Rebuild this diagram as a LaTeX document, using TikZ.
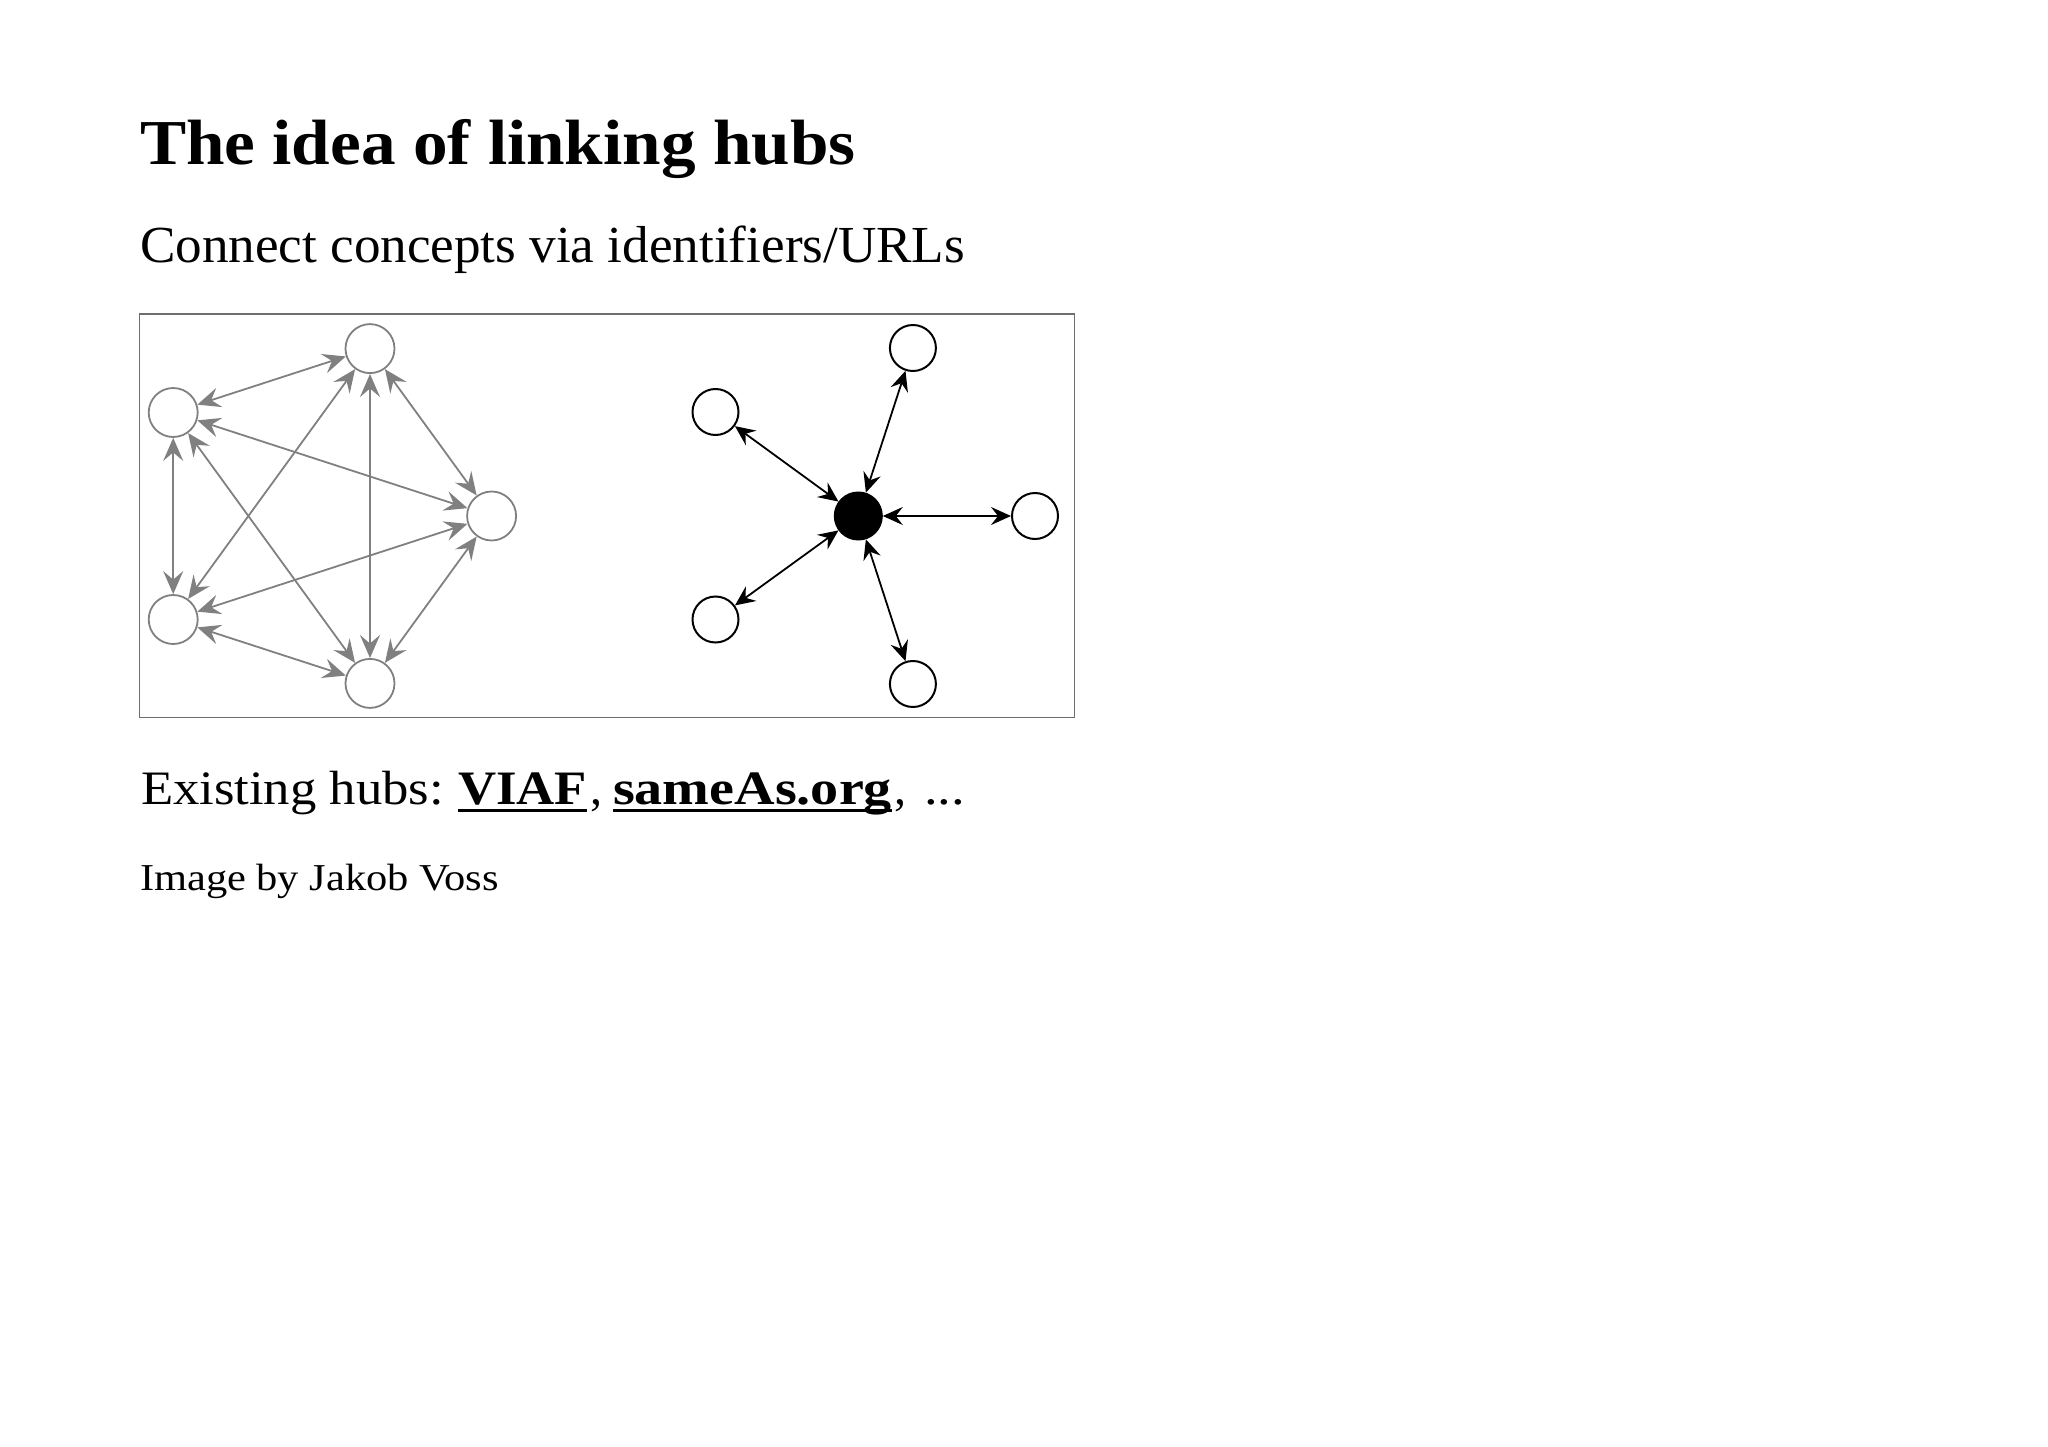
\documentclass[tikz,border=0pt]{standalone}
\usepackage{fontspec}
\setmainfont{Liberation Serif}
\usepackage{graphicx}
\usetikzlibrary{arrows.meta}

\definecolor{edgegray}{RGB}{128,128,128}
\definecolor{framegray}{RGB}{110,110,110}

% set #2 and stretch it horizontally to width #1 (in pt)
\newcommand\fitto[2]{\setbox0\hbox{#2}\dimen0=\wd0\relax
  \pgfmathsetmacro\fitsx{#1/\the\dimen0}\scalebox{\fitsx}[1]{\box0}}
% underline placed just below the baseline
\newcommand\hubul[1]{\setbox2\hbox{#1}\rlap{\rule[-8pt]{\wd2}{3pt}}\box2}

\begin{document}
\begin{tikzpicture}[x=1pt,y=-1pt,
  txt/.style={anchor=base west, inner sep=0pt, outer sep=0pt},
  hubfont/.style={font=\fontsize{48}{56}\selectfont},
  gnode/.style={circle, draw=edgegray, line width=1.8pt, minimum size=49pt, inner sep=0pt, fill=white},
  gedge/.style={draw=edgegray, line width=1.8pt, >={Stealth[length=23pt,width=20pt,inset=8.5pt]}, <->},
  hnode/.style={circle, draw=black, line width=2pt, minimum size=46pt, inner sep=0pt, fill=white},
  hubnode/.style={circle, fill=black, draw=black, line width=1pt, minimum size=48pt, inner sep=0pt},
  hedge/.style={draw=black, line width=1.8pt, >={Stealth[length=20pt,width=18pt,inset=7pt]}, <->}]
\useasboundingbox (0,0) rectangle (2048,1447);

% texts
\node[txt] (title) at (140,165)
  {\fitto{715.5}{\fontsize{64}{70}\selectfont\bfseries The idea of linking hubs}};
\node[txt] (subtitle) at (140,263)
  {\fitto{825}{\fontsize{52}{60}\selectfont Connect concepts via identifiers/URLs}};

\node[txt, hubfont] (hubslbl) at (141,804) {\fitto{303}{Existing hubs:}};
\node[txt, hubfont] (viaf) at (458,804) {\hubul{\fitto{129}{\bfseries VIAF}}};
\node[txt, hubfont] (comma1) at (590,804) {,};
\node[txt, hubfont] (sameas) at (613,804) {\hubul{\fitto{279}{\bfseries sameAs.org}}};
\node[txt, hubfont] (comma2) at (894,804) {,};
\node[txt, hubfont] (dots) at (924,804) {\fitto{41}{...}};

\node[txt] (credit) at (140,890)
  {\fitto{359}{\fontsize{38}{44}\selectfont Image by Jakob Voss}};

% image frame
\node[draw=framegray, line width=1.5pt, minimum width=935pt, minimum height=403.5pt, inner sep=0pt] (frame) at (607,515.75) {};

% left: complete graph
\node[gnode] (l1) at (370,348.6) {};
\node[gnode] (l2) at (173.2,412.5) {};
\node[gnode] (l3) at (173.2,619.5) {};
\node[gnode] (l4) at (370,683.4) {};
\node[gnode] (l5) at (491.6,516) {};
\foreach \a/\b in {l1/l2,l1/l3,l1/l4,l1/l5,l2/l3,l2/l4,l2/l5,l3/l4,l3/l5,l4/l5}
  \draw[gedge] (\a) -- (\b);

% right: hub
\node[hubnode] (hub) at (858.3,516) {};
\node[hnode] (r1) at (912.9,348) {};
\node[hnode] (r2) at (715.5,412) {};
\node[hnode] (r3) at (715.5,619.5) {};
\node[hnode] (r4) at (912.9,684) {};
\node[hnode] (r5) at (1035,516) {};
\foreach \b in {r1,r2,r3,r4,r5}
  \draw[hedge] (hub) -- (\b);
\end{tikzpicture}
\end{document}
